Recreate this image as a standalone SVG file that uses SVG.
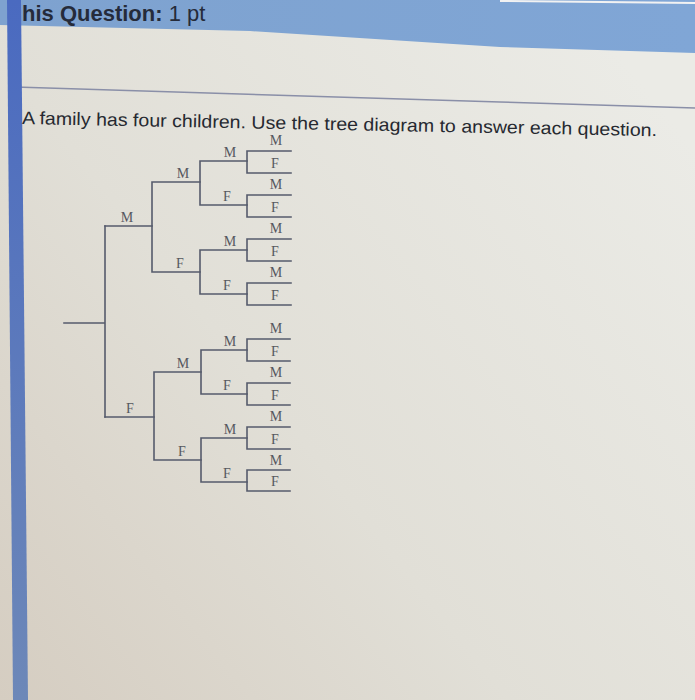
<svg xmlns="http://www.w3.org/2000/svg" width="695" height="700" viewBox="0 0 695 700">
<defs>
<linearGradient id="bg" x1="0" y1="700" x2="695" y2="150" gradientUnits="userSpaceOnUse">
<stop offset="0" stop-color="#d5cdc1"/>
<stop offset="0.45" stop-color="#e1dfd7"/>
<stop offset="1" stop-color="#ebebe6"/>
</linearGradient>
<linearGradient id="band" x1="0" y1="0" x2="695" y2="0" gradientUnits="userSpaceOnUse">
<stop offset="0" stop-color="#7ea2cf"/>
<stop offset="1" stop-color="#80a6d6"/>
</linearGradient>
<linearGradient id="bar" x1="0" y1="0" x2="0" y2="700" gradientUnits="userSpaceOnUse">
<stop offset="0" stop-color="#4a6ac0"/>
<stop offset="1" stop-color="#6d88b8"/>
</linearGradient>
<style>
.ln{stroke:#565b6c;stroke-width:1.6;fill:none;stroke-linecap:square}
.lb{font-family:"Liberation Sans","Arial",sans-serif;font-size:14px;fill:#55585f;text-anchor:middle}
.lb{font-family:"Liberation Serif","Times New Roman",serif}
</style>
</defs>
<rect width="695" height="700" fill="url(#bg)"/>
<!-- header band -->
<polygon points="0,0 695,0 695,53 500,47 250,31 0,25" fill="url(#band)"/>
<line x1="500" y1="1" x2="695" y2="3" stroke="#f2f2f2" stroke-width="2"/>
<text x="22" y="21" font-family="Liberation Sans, Arial, sans-serif" font-size="22" fill="#252b3a"><tspan font-weight="bold">his Question:</tspan> 1 pt</text>
<!-- separator line -->
<polyline points="15,87 500,102 695,108" fill="none" stroke="#8a8fa8" stroke-width="1.5"/>
<!-- left blue bar -->
<polygon points="7,0 21,0 28,700 13,700" fill="url(#bar)"/>
<!-- prompt -->
<text x="22" y="124" transform="rotate(1.1 22 124)" font-family="Liberation Sans, Arial, sans-serif" font-size="18" fill="#262930" textLength="635" lengthAdjust="spacingAndGlyphs">A family has four children. Use the tree diagram to answer each question.</text>

<g id="connectors">
<path class="ln" d="M64,323 H105 M105,226 V417"/>
<path class="ln" d="M105,226 H152 M105,417 H154"/>
<path class="ln" d="M152,182 V272 M152,182 H200 M152,272 H200"/>
<path class="ln" d="M154,372 V460 M154,372 H201 M154,460 H201"/>
<path class="ln" d="M200,161 V205 M200,161 H247 M200,205 H247"/>
<path class="ln" d="M200,250 V294 M200,250 H247 M200,294 H247"/>
<path class="ln" d="M201,350 V394 M201,350 H247 M201,394 H247"/>
<path class="ln" d="M201,438 V482 M201,438 H247 M201,482 H247"/>
<path class="ln" d="M247,151 V173 M247,151 H291 M247,173 H291"/>
<path class="ln" d="M247,195 V217 M247,195 H291 M247,217 H291"/>
<path class="ln" d="M247,239 V261 M247,239 H291 M247,261 H291"/>
<path class="ln" d="M247,283 V305 M247,283 H291 M247,305 H291"/>
<path class="ln" d="M247,339 V361 M247,339 H290 M247,361 H290"/>
<path class="ln" d="M247,383 V405 M247,383 H290 M247,405 H290"/>
<path class="ln" d="M247,427 V449 M247,427 H290 M247,449 H290"/>
<path class="ln" d="M247,470 V491 M247,470 H290 M247,491 H290"/>
</g>

<g id="l1-M"><text class="lb" x="127" y="222">M</text></g>
<g id="l1-F"><text class="lb" x="130" y="413">F</text></g>

<g id="l2-MM"><text class="lb" x="183" y="178">M</text></g>
<g id="l2-MF"><text class="lb" x="180" y="268">F</text></g>
<g id="l2-FM"><text class="lb" x="183" y="368">M</text></g>
<g id="l2-FF"><text class="lb" x="182" y="456">F</text></g>

<g id="l3-MMM"><text class="lb" x="230" y="157">M</text></g>
<g id="l3-MMF"><text class="lb" x="227" y="201">F</text></g>
<g id="l3-MFM"><text class="lb" x="230" y="246">M</text></g>
<g id="l3-MFF"><text class="lb" x="227" y="290">F</text></g>
<g id="l3-FMM"><text class="lb" x="230" y="346">M</text></g>
<g id="l3-FMF"><text class="lb" x="227" y="390">F</text></g>
<g id="l3-FFM"><text class="lb" x="230" y="434">M</text></g>
<g id="l3-FFF"><text class="lb" x="227" y="478">F</text></g>

<g id="leaves">
<text class="lb" x="276" y="145">M</text><text class="lb" x="275" y="168">F</text>
<text class="lb" x="276" y="189">M</text><text class="lb" x="275" y="212">F</text>
<text class="lb" x="276" y="233">M</text><text class="lb" x="275" y="256">F</text>
<text class="lb" x="276" y="277">M</text><text class="lb" x="275" y="300">F</text>
<text class="lb" x="276" y="333">M</text><text class="lb" x="275" y="356">F</text>
<text class="lb" x="276" y="377">M</text><text class="lb" x="275" y="400">F</text>
<text class="lb" x="276" y="421">M</text><text class="lb" x="275" y="444">F</text>
<text class="lb" x="276" y="465">M</text><text class="lb" x="275" y="486">F</text>
</g>
</svg>
